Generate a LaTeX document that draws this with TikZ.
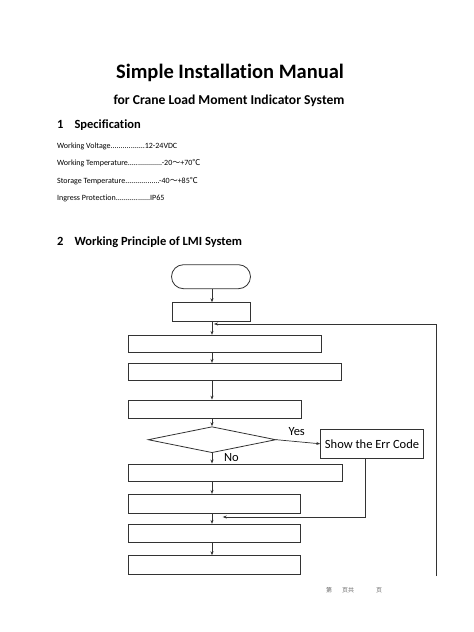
\documentclass[tikz,border=0pt]{standalone}
\usepackage{fontspec}
\setmainfont{Carlito}[Ligatures=NoCommon]
\newfontfamily\cjk{Noto Sans CJK SC}
\usetikzlibrary{shapes.geometric,arrows.meta}
\begin{document}
\begin{tikzpicture}[x=1pt,y=-1pt,
  flow/.style={draw=black!80,line width=0.8pt},
  box/.style={flow,rectangle,inner sep=0pt},
  arr/.style={draw=black!80,line width=0.7pt,-{Stealth[length=4pt,width=3pt]}},
  spec/.style={anchor=base west,inner sep=0pt,font=\fontsize{8}{9}\selectfont},
  head/.style={anchor=west,inner sep=0pt,font=\fontsize{12.5}{14}\selectfont\bfseries},
  lab/.style={inner sep=0pt,font=\fontsize{12.5}{14}\selectfont}]
\useasboundingbox[fill=white] (0,0) rectangle (474,632);
% titles
\node[inner sep=0pt,font=\fontsize{20.5}{24}\selectfont\bfseries] (title) at (230,73) {Simple Installation Manual};
\node[inner sep=0pt,font=\fontsize{13.6}{16}\selectfont\bfseries] (sub) at (229,101) {for Crane Load Moment Indicator System};
\node[head] (h1) at (57,125) {1\hspace{11pt}Specification};
\node[spec] (s1) at (57,148) {Working Voltage.................12-24VDC};
\node[spec] (s2) at (57,165.7) {Working Temperature.................-20{\cjk ～}+70{\cjk ℃}};
\node[spec] (s3) at (57,183.7) {Storage Temperature.................-40{\cjk ～}+85{\cjk ℃}};
\node[spec] (s4) at (57,200.7) {Ingress Protection.................IP65};
\node[head] (h2) at (57,241.7) {2\hspace{11pt}Working Principle of LMI System};
% flowchart
\node[box,rounded corners=12pt,minimum width=79pt,minimum height=24pt] (term) at (211,276.7) {};
\node[box,minimum width=78.4pt,minimum height=19pt] (b2) at (211.5,312.2) {};
\node[box,minimum width=193.4pt,minimum height=17pt] (b3) at (225,343.8) {};
\node[box,minimum width=212.7pt,minimum height=16.7pt] (b4) at (234.7,371.7) {};
\node[box,minimum width=172.7pt,minimum height=18.3pt] (b5) at (214.7,409.2) {};
\node[flow,diamond,inner sep=0pt,minimum width=127.7pt,minimum height=26pt] (dec) at (212,439.7) {};
\node[box,minimum width=102.6pt,minimum height=29pt,font=\fontsize{12.5}{14}\selectfont] (err) at (372,443.8) {Show the Err Code};
\node[box,minimum width=214pt,minimum height=17.7pt] (b6) at (235.3,472.8) {};
\node[box,minimum width=172.4pt,minimum height=18.7pt] (b7) at (214.5,503.7) {};
\node[box,minimum width=172.4pt,minimum height=18.4pt] (b8) at (214.5,533.5) {};
\node[box,minimum width=172.4pt,minimum height=18.6pt] (b9) at (214.5,565) {};
\node[lab] (yes) at (296.7,431.2) {Yes};
\node[lab] (no) at (231.5,457.7) {No};
\coordinate (sp) at (212,0);
\coordinate (join1) at (214,324);
\coordinate (loopbot) at (436.7,576);
\coordinate (join2) at (222.7,517);
\coordinate (errout) at (365.7,458.3);
\draw[arr] (sp |- term.south) -- (sp |- b2.north);
\draw[arr] (sp |- b2.south) -- (sp |- b3.north);
\draw[arr] (sp |- b3.south) -- (sp |- b4.north);
\draw[arr] (sp |- b4.south) -- (sp |- b5.north);
\draw[arr] (sp |- b5.south) -- (dec.north);
\draw[arr] (dec.east) -- (err.west);
\draw[arr] (dec.south) -- (sp |- b6.north);
\draw[arr] (sp |- b6.south) -- (sp |- b7.north);
\draw[arr] (sp |- b7.south) -- (sp |- b8.north);
\draw[arr] (sp |- b8.south) -- (sp |- b9.north);
\draw[arr] (loopbot) |- (join1);
\draw[arr] (errout) |- (join2);
% footer
\node[inner sep=0pt,anchor=west,text=black!60,font=\cjk\fontsize{6}{7}\selectfont] (foot) at (326,590) {第\hspace{10pt}页共\hspace{22pt}页};
\end{tikzpicture}
\end{document}
